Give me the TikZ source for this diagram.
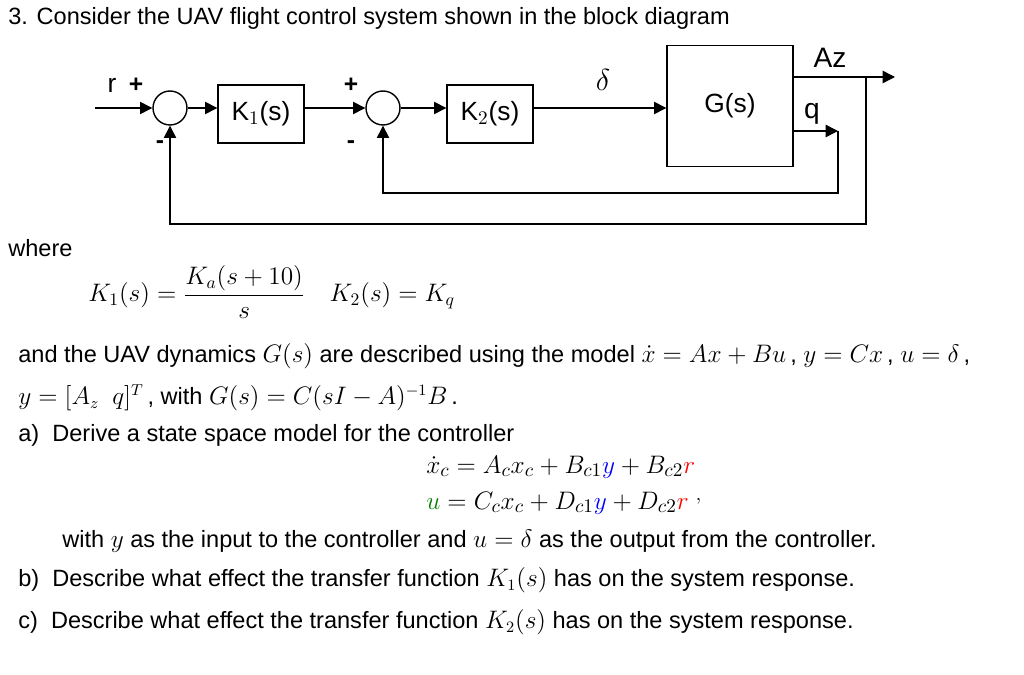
\documentclass[tikz,border=0pt]{standalone}
\usepackage{amsmath}
\usepackage{fontspec}
\setmainfont{Liberation Sans}
\usetikzlibrary{positioning, arrows.meta}

\tikzset{
  blk/.style={draw, thick, minimum width=1.72cm, minimum height=1.16cm, font=\fontsize{15}{17}\selectfont},
  sumj/.style={draw, thick, circle, minimum size=0.68cm, inner sep=0pt},
  sig/.style={thick, -{Triangle[length=7pt,width=7pt]}},
  txt/.style={anchor=west, inner sep=0pt, font=\fontsize{13.4}{16}\selectfont},
  sgn/.style={font=\bfseries\fontsize{14}{16}\selectfont, inner sep=0pt}
}

\begin{document}
\begin{tikzpicture}[x=0.02cm, y=-0.02cm]
  \useasboundingbox (0,0) rectangle (1024,675);

  % block diagram
  \node[sumj] (s1) at (170,108) {};
  \node[blk] (k1) at (261,114) {K$_1$(s)};
  \node[sumj] (s2) at (383,108) {};
  \node[blk] (k2) at (490,114) {K$_2$(s)};
  \node[blk, minimum width=2.52cm, minimum height=2.42cm] (g) at (730,106) {G(s)};
  \coordinate (rin) at (95,108);
  \coordinate (azo) at (895,77);
  \coordinate (azt) at (866,77);
  \coordinate (qo) at (838,131);

  \draw[sig] (rin) -- (s1);
  \draw[sig] (s1) -- (k1.west |- s1);
  \draw[sig] (k1.east |- s1) -- (s2);
  \draw[sig] (s2) -- (k2.west |- s2);
  \draw[sig] (k2.east |- s2) -- (g.west |- s2);
  \draw[sig] (g.east |- azo) -- (azo);
  \draw[sig] (g.east |- qo) -- (qo);
  \draw[sig] (qo) -- ++(0,62) -| (s2.south);
  \draw[sig] (azt) -- ++(0,147) -| (s1.south);

  \node[font=\fontsize{15}{17}\selectfont] at (112,85) {r};
  \node[sgn] at (136,85) {+};
  \node[sgn] at (160,145) {-};
  \node[sgn] at (351,85) {+};
  \node[sgn] at (351,145) {-};
  \node[font=\fontsize{16}{18}\selectfont] at (603,80) {$\delta$};
  \node[font=\fontsize{16}{18}\selectfont] at (830,58) {Az};
  \node[font=\fontsize{16}{18}\selectfont] at (812,114) {q};

  % text
  \node[txt] (title) at (8,18) {3. Consider the UAV flight control system shown in the block diagram};
  \node[txt] (where) at (8,248) {where};
  \node[txt, font=\fontsize{14}{16}\selectfont] (kk) at (88,292)
    {$K_1(s)=\dfrac{K_a(s+10)}{s}\quad K_2(s)=K_q$};
  \node[txt] (dyn) at (18,356) {and the UAV dynamics $G(s)$ are described using the model $\dot x=Ax+Bu$\,, $y=Cx$\,, $u=\delta$\,,};
  \node[txt] (yv) at (18,398) {$y=[A_z\ \ q]^T$\,, with $G(s)=C(sI-A)^{-1}B$\,.};
  \node[txt] (qa) at (18,435) {a)\ \ Derive a state space model for the controller};
  \node[txt, font=\fontsize{15}{17}\selectfont] (eq1) at (426,467)
    {$\dot x_c=A_cx_c+B_{c1}\textcolor{blue}{y}+B_{c2}\textcolor{red}{r}$};
  \node[txt, font=\fontsize{15}{17}\selectfont] (eq2) at (426,503)
    {$\textcolor{green!50!black}{u}=C_cx_c+D_{c1}\textcolor{blue}{y}+D_{c2}\textcolor{red}{r}\ ^{,}$};
  \node[txt] (wy) at (62,541) {with $y$ as the input to the controller and $u=\delta$ as the output from the controller.};
  \node[txt] (qb) at (18,580) {b)\ \ Describe what effect the transfer function $K_1(s)$ has on the system response.};
  \node[txt] (qc) at (18,622) {c)\ \ Describe what effect the transfer function $K_2(s)$ has on the system response.};
\end{tikzpicture}
\end{document}
